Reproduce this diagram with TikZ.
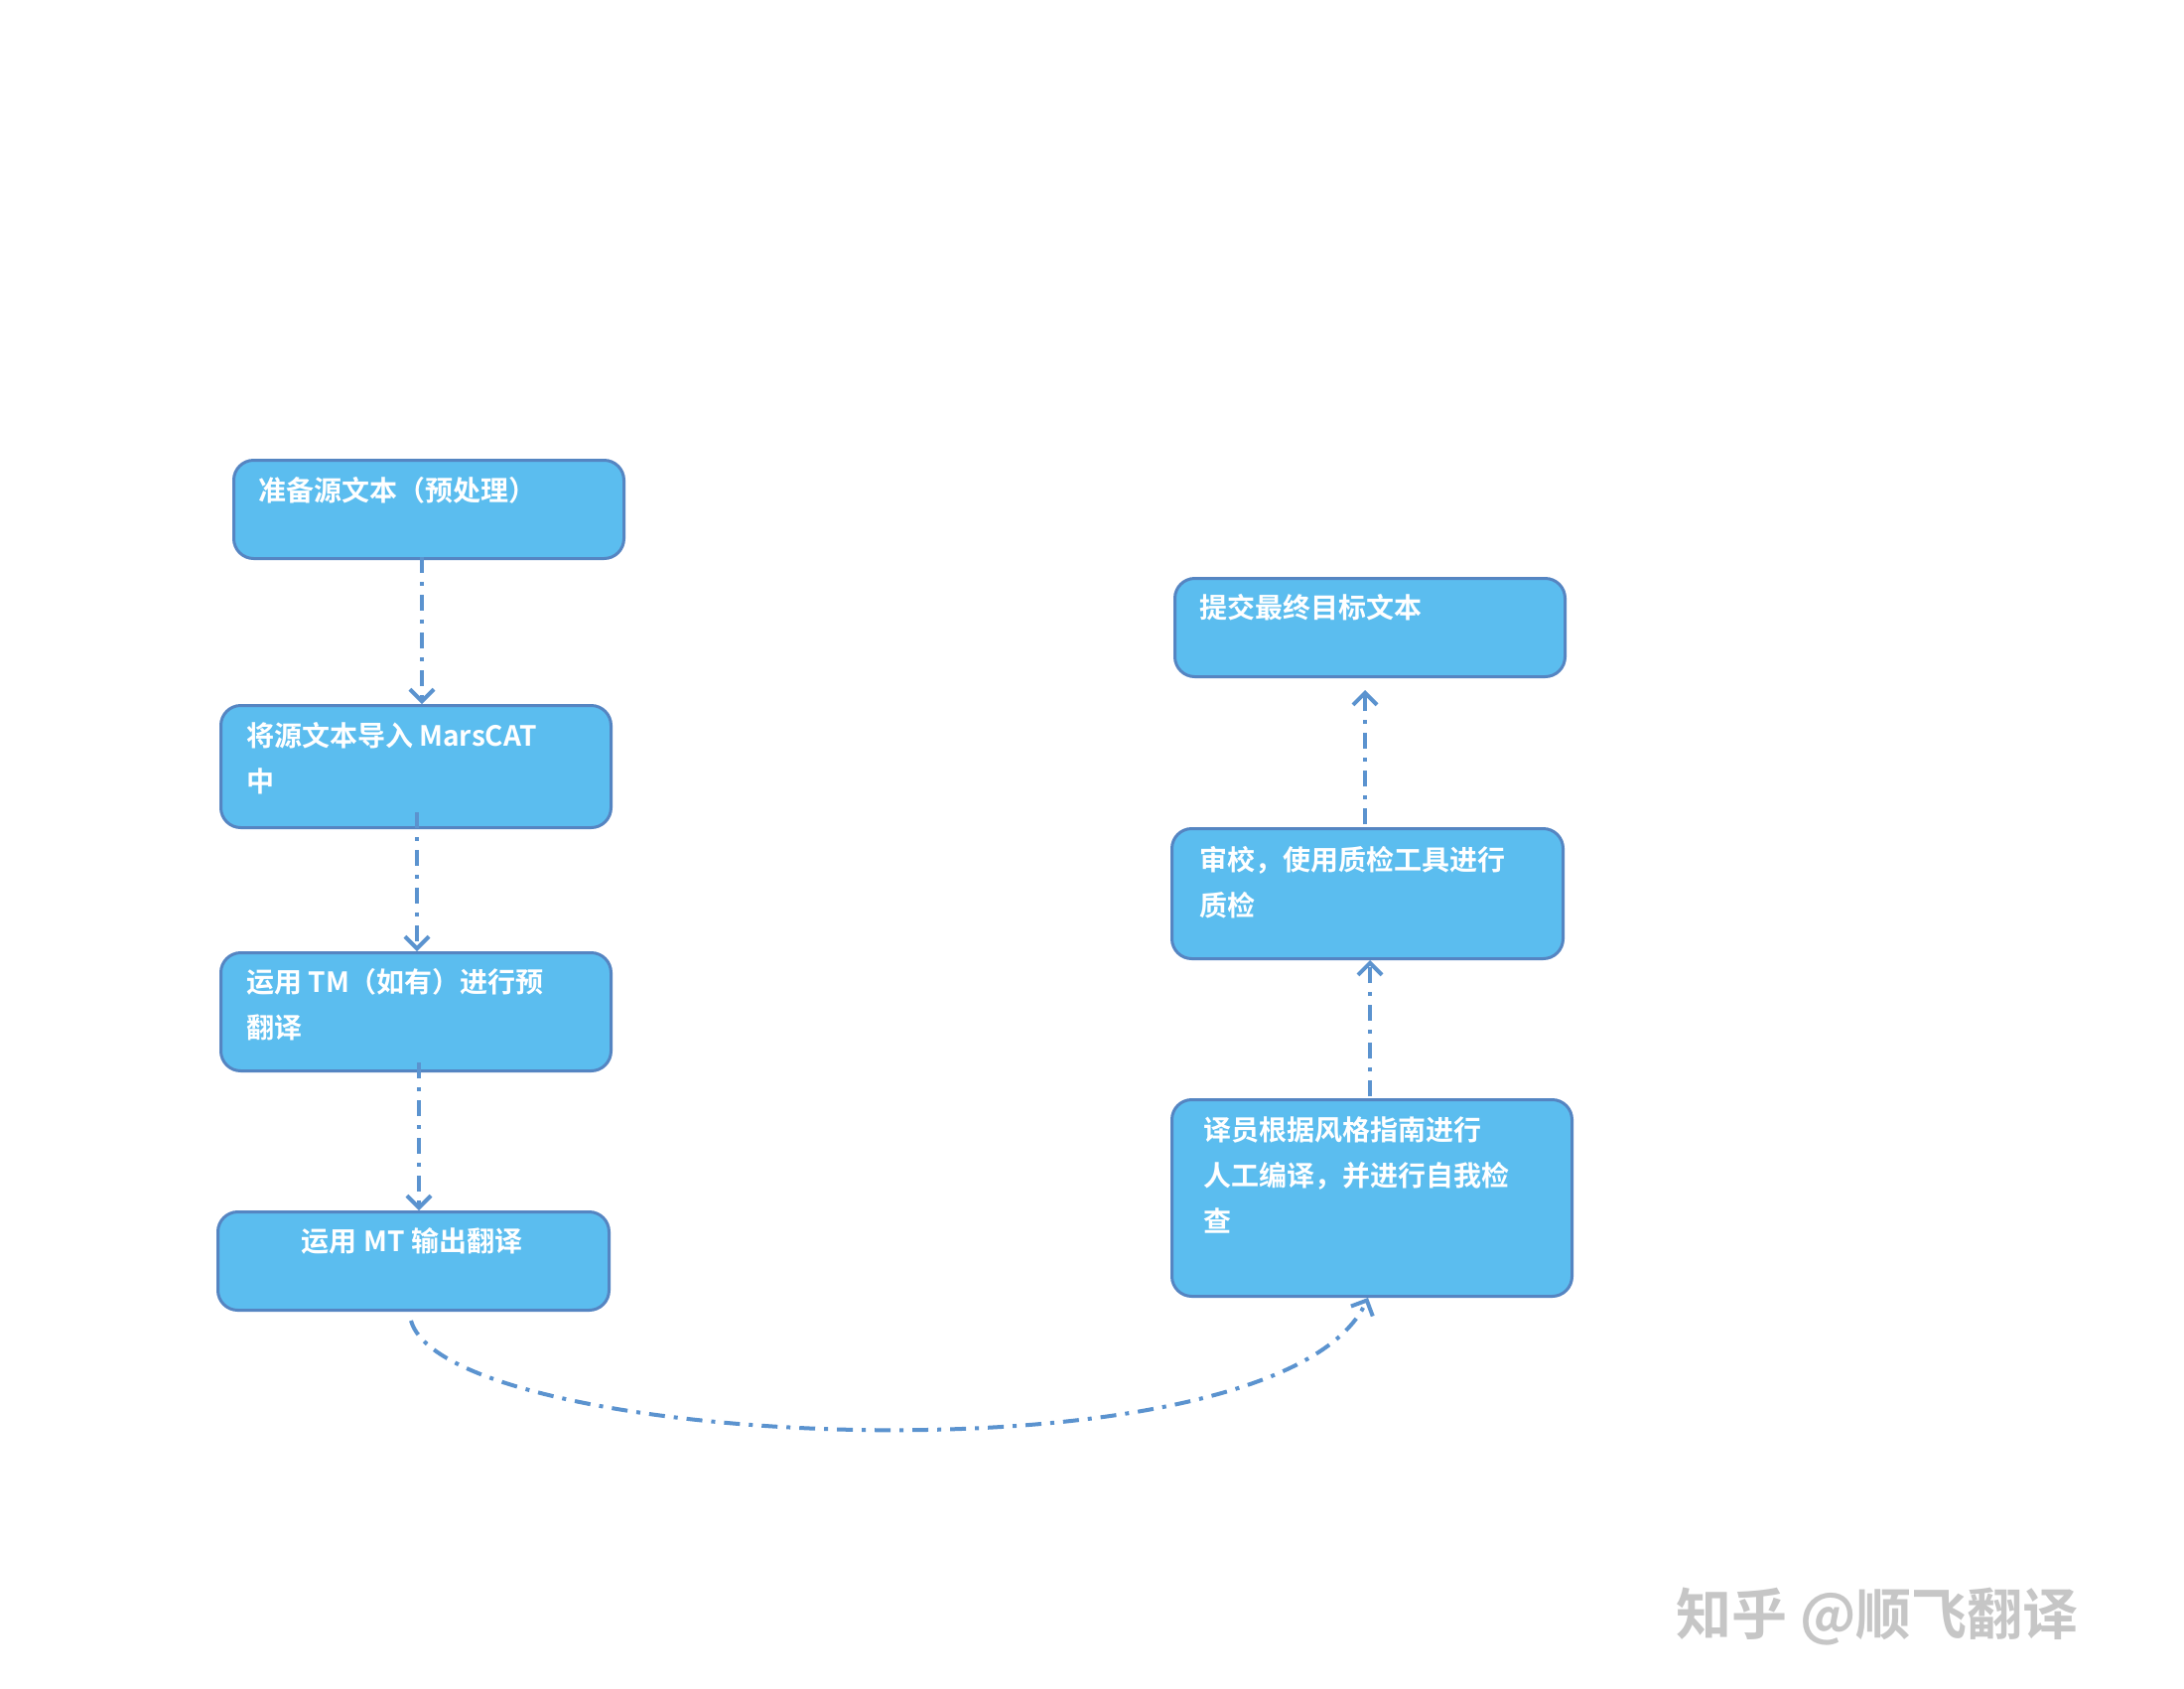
\documentclass[tikz,border=0pt]{standalone}
\usepackage{fontspec}
\newfontfamily\cjk{Noto Sans CJK SC Bold}
\usetikzlibrary{arrows.meta}
\definecolor{boxfill}{HTML}{5BBDEF}
\definecolor{boxline}{HTML}{5585C2}
\definecolor{arr}{HTML}{5B93CF}
\tikzset{
  stepbox/.style={draw=boxline,line width=3pt,fill=boxfill,rounded corners=20pt,inner sep=0pt},
  boxtext/.style={anchor=north west,align=left,text=white,font=\cjk\fontsize{28pt}{46pt}\selectfont,inner sep=0pt},
  flow/.style={draw=arr,line width=4pt,dash pattern=on 16pt off 9pt on 4pt off 9pt,-{Straight Barb[length=12pt,width=24pt,line width=4pt]}}
}
\begin{document}
\begin{tikzpicture}[x=1pt,y=-1pt]
\useasboundingbox (0,0) rectangle (2200,1700);
\fill[white] (0,0) rectangle (2200,1700);
\newcommand{\mybox}[5]{\node[stepbox,minimum width=#3-#1,minimum height=#4-#2,anchor=north west] (#5) at (#1,#2) {};}
\mybox{234}{462}{627}{561}{b1}
\mybox{221}{709}{614}{832}{b2}
\mybox{221}{958}{614}{1077}{b3}
\mybox{218}{1219}{612}{1318}{b4}
\mybox{1182}{581}{1575}{680}{b5}
\mybox{1179}{833}{1573}{964}{b6}
\mybox{1179}{1106}{1582}{1304}{b7}
\node[boxtext] (t1) at (260,480) {准备源文本（预处理）};
\node[boxtext] (t2) at (248,727) {将源文本导入 MarsCAT\\中};
\node[boxtext] (t3) at (248,975) {运用 TM（如有）进行预\\翻译};
\node[boxtext,anchor=north] (t4) at (415,1236) {运用 MT 输出翻译};
\node[boxtext] (t5) at (1208,598) {提交最终目标文本};
\node[boxtext] (t6) at (1208,852) {审校，使用质检工具进行\\质检};
\node[boxtext] (t7) at (1212,1124) {译员根据风格指南进行\\人工编译，并进行自我检\\查};
\coordinate (c1) at (425,561);
\coordinate (c2) at (420,818);
\coordinate (c3) at (422,1070);
\coordinate (c4) at (414,1330);
\coordinate (c7) at (1380,1104);
\coordinate (c6) at (1375,830);
\draw[flow] (c1) -- (b2.north -| c1);
\draw[flow] (c2) -- (b3.north -| c2);
\draw[flow] (c3) -- (b4.north -| c3);
\draw[flow] (c4) .. controls (450,1460) and (1290,1500) .. (b7.south -| 1378,0);
\draw[flow] (c7) -- (b6.south -| c7);
\draw[flow] (c6) -- (1375,695);
\node[anchor=west,text=gray!45,font=\cjk\fontsize{56pt}{60pt}\selectfont] (wm) at (1685,1628) {知乎 @顺飞翻译};
\end{tikzpicture}
\end{document}
